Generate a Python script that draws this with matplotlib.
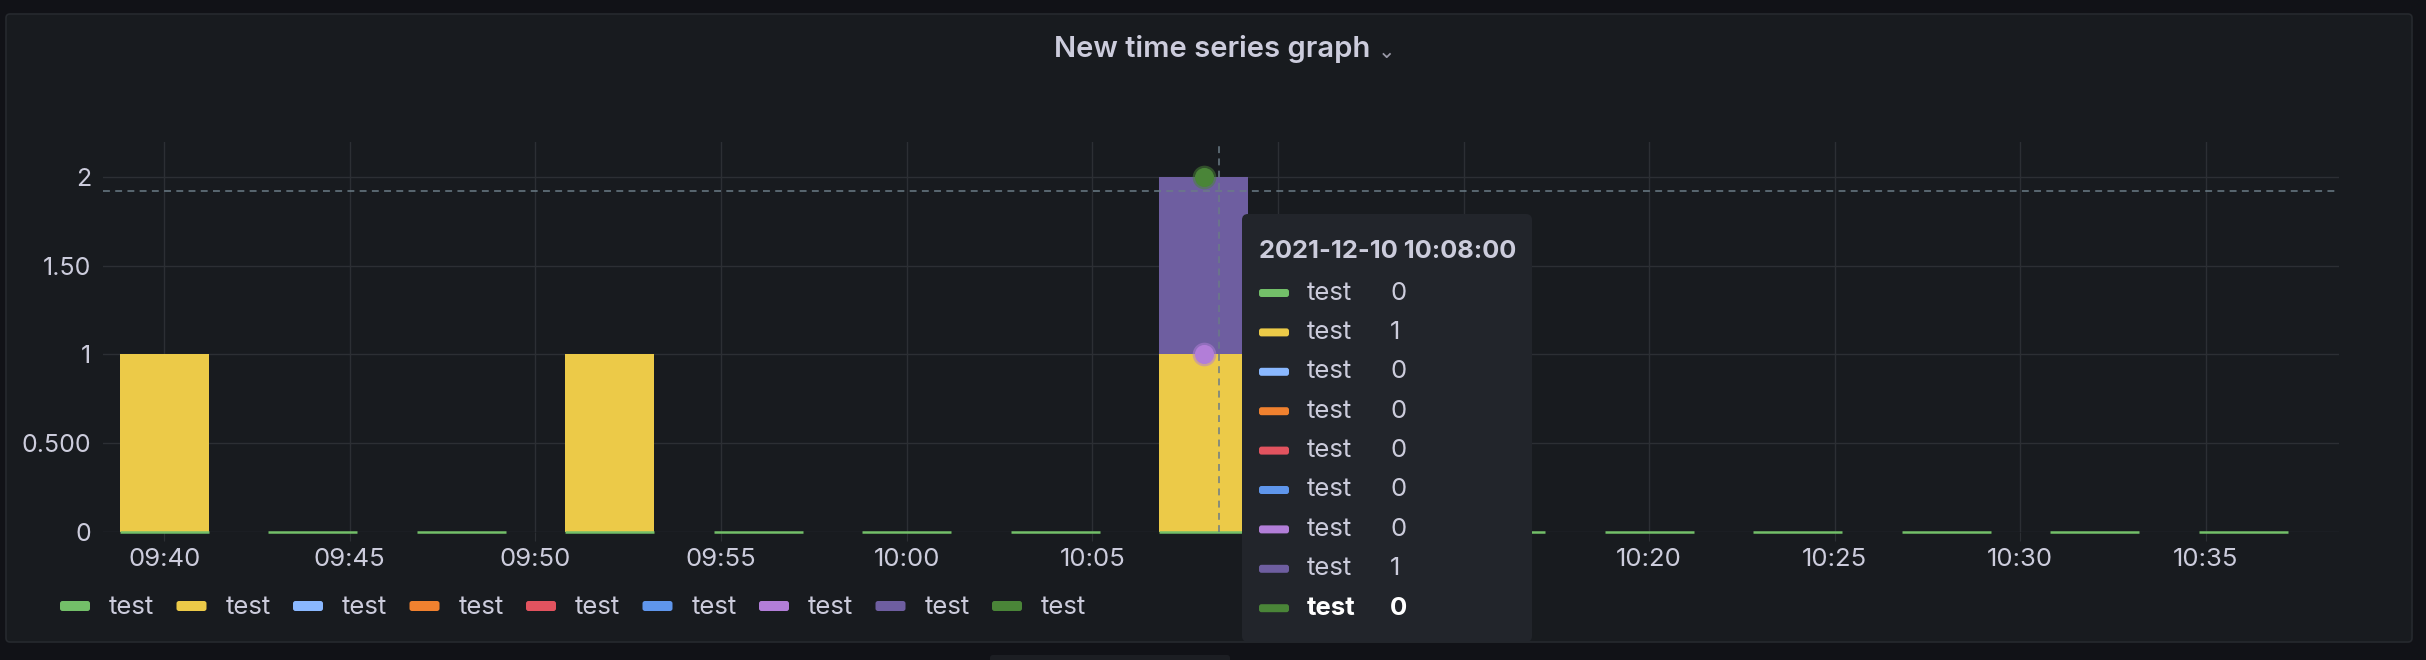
import matplotlib
matplotlib.use("Agg")
import matplotlib.pyplot as plt
import matplotlib.dates as mdates
from matplotlib.patches import FancyBboxPatch, Rectangle
from matplotlib.ticker import FixedLocator, FixedFormatter
import pandas as pd

# ---------------- data ----------------
day = "2021-12-10"
times = ["09:40", "09:44", "09:48", "09:52", "09:56", "10:00", "10:04", "10:08",
         "10:12", "10:16", "10:20", "10:24", "10:28", "10:32", "10:36"]
series_labels = ["test"] * 9
series_colors = ["#73bf69", "#ecca48", "#8ab8ff", "#f0812f", "#e2535f",
                 "#5f96ec", "#b27ed8", "#6e5ea0", "#4a8538"]
s_green       = [0, 0, 0, 0, 0, 0, 0, 0, 0, 0, 0, 0, 0, 0, 0]
s_yellow      = [1, 0, 0, 1, 0, 0, 0, 1, 0, 0, 0, 0, 0, 0, 0]
s_light_blue  = [0, 0, 0, 0, 0, 0, 0, 0, 0, 0, 0, 0, 0, 0, 0]
s_orange      = [0, 0, 0, 0, 0, 0, 0, 0, 0, 0, 0, 0, 0, 0, 0]
s_red         = [0, 0, 0, 0, 0, 0, 0, 0, 0, 0, 0, 0, 0, 0, 0]
s_blue        = [0, 0, 0, 0, 0, 0, 0, 0, 0, 0, 0, 0, 0, 0, 0]
s_purple      = [0, 0, 0, 0, 0, 0, 0, 0, 0, 0, 0, 0, 0, 0, 0]
s_dark_purple = [0, 0, 0, 0, 0, 0, 0, 1, 0, 0, 0, 0, 0, 0, 0]
s_dark_green  = [0, 0, 0, 0, 0, 0, 0, 0, 0, 0, 0, 0, 0, 0, 0]
series = [s_green, s_yellow, s_light_blue, s_orange, s_red, s_blue,
          s_purple, s_dark_purple, s_dark_green]

title = "New time series graph"
x_ticks = ["09:40", "09:45", "09:50", "09:55", "10:00", "10:05", "10:10",
           "10:15", "10:20", "10:25", "10:30", "10:35"]
x_range = ["09:38:21", "10:38:35"]
y_ticks = [0, 0.5, 1, 1.5, 2]
y_tick_labels = ["0", "0.500", "1", "1.50", "2"]
y_max = 2.197
tooltip_time = "10:08"
tooltip_header = "2021-12-10 10:08:00"
cursor_time = "10:08:25"
cursor_value = 1.92
hover_point_series = [6, 8]   # series with hover markers
highlight_series = 8          # bold row in tooltip

# ---------------- style ----------------
W, H, DPI = 2426, 660, 100
FIG_BG = "#111217"
PANEL_BG = "#181b1f"
TOOLTIP_BG = "#22252b"
GRID = "#2c2f34"
TEXT = "#ccccdc"
CROSS = "#6b7c87"
FONT = ["Inter", "DejaVu Sans"]
plt.rcParams["font.family"] = FONT

def T(t):
    return mdates.date2num(pd.Timestamp(f"{day} {t}"))

xs = [T(t) for t in times]
bar_w = 2.4 / 1440.0

fig = plt.figure(figsize=(W / DPI, H / DPI), dpi=DPI, facecolor=FIG_BG)

# background overlay (pixel coordinates)
bg = fig.add_axes([0, 0, 1, 1], zorder=0)
bg.set_xlim(0, W); bg.set_ylim(H, 0); bg.axis("off")
bg.add_patch(FancyBboxPatch((6, 14), 2406, 628, boxstyle="round,pad=0,rounding_size=4",
                            fc=PANEL_BG, ec="#26292e", lw=1.2))
bg.add_patch(FancyBboxPatch((990, 655), 240, 10, boxstyle="round,pad=0,rounding_size=3",
                            fc="#1c1e23", ec="none"))
bg.text(1212, 49, title, color=TEXT, fontsize=21, fontweight="semibold",
        ha="center", va="center")
bg.text(1386, 52, "\u2304", color="#9a9aa8", fontsize=15, ha="center", va="center",
        family=["DejaVu Sans"])

# main axes
ax = fig.add_axes([103 / W, (H - 532) / H, (2339 - 103) / W, (532 - 142) / H], zorder=1)
ax.set_facecolor("none")
for sp in ax.spines.values():
    sp.set_visible(False)
ax.set_xlim(T(x_range[0]), T(x_range[1]))
ax.set_ylim(0, y_max)
ax.xaxis.set_major_locator(FixedLocator([T(t) for t in x_ticks]))
ax.xaxis.set_major_formatter(mdates.DateFormatter("%H:%M"))
ax.yaxis.set_major_locator(FixedLocator(y_ticks))
ax.yaxis.set_major_formatter(FixedFormatter(y_tick_labels))
ax.grid(True, color=GRID, lw=1.0)
ax.set_axisbelow(True)
ax.tick_params(axis="x", length=6.5, width=0.8, color=GRID, pad=5,
               labelcolor=TEXT, labelsize=18.5)
ax.tick_params(axis="y", length=0, pad=8.5, labelcolor=TEXT, labelsize=18)

bottom = [0.0] * len(times)
tops = []
for i, vals in enumerate(series):
    if i == 0:
        ax.bar(xs, vals, width=bar_w, bottom=bottom, color=series_colors[i],
               edgecolor=series_colors[i], lw=1.8, zorder=4, clip_on=False)
    else:
        ax.bar(xs, vals, width=bar_w, bottom=bottom, color=series_colors[i],
               lw=0, zorder=3)
    bottom = [b + v for b, v in zip(bottom, vals)]
    tops.append(list(bottom))

# crosshair
ax.axhline(cursor_value, color=CROSS, lw=1.1, dashes=(4.5, 3.5), zorder=5)
ax.axvline(T(cursor_time), color=CROSS, lw=1.1, dashes=(4.5, 3.5), zorder=5)

# hover points
hi = times.index(tooltip_time)
for si in hover_point_series:
    ax.scatter([xs[hi]], [tops[si][hi]], s=290, color=series_colors[si], alpha=0.5,
               lw=0, zorder=6, clip_on=False)
    ax.scatter([xs[hi]], [tops[si][hi]], s=190, color=series_colors[si],
               lw=0, zorder=7, clip_on=False)

# foreground overlay: legend + tooltip
fg = fig.add_axes([0, 0, 1, 1], zorder=3)
fg.set_xlim(0, W); fg.set_ylim(H, 0); fg.axis("off"); fg.set_facecolor("none")

for i, (lab, col) in enumerate(zip(series_labels, series_colors)):
    x0 = 60 + i * 116.5
    fg.add_patch(FancyBboxPatch((x0, 601), 30, 10, boxstyle="round,pad=0,rounding_size=2.5",
                                fc=col, ec="none"))
    fg.text(x0 + 49, 608, lab, color=TEXT, fontsize=18.5, ha="left", va="center")

fg.add_patch(FancyBboxPatch((1242, 214), 290, 428, boxstyle="round,pad=0,rounding_size=6",
                            fc=TOOLTIP_BG, ec="none"))
fg.text(1259, 251, tooltip_header, color=TEXT, fontsize=18.3, fontweight="bold",
        ha="left", va="center")
for i, (lab, col, vals) in enumerate(zip(series_labels, series_colors, series)):
    y = 293 + i * 39.4
    fg.add_patch(FancyBboxPatch((1259, y - 4), 30, 8, boxstyle="round,pad=0,rounding_size=2.5",
                                fc=col, ec="none"))
    bold = i == highlight_series
    c = "#ffffff" if bold else TEXT
    w = "bold" if bold else "normal"
    fg.text(1307, y, lab, color=c, fontsize=18.5, fontweight=w, ha="left", va="center")
    fg.text(1390, y, f"{vals[hi]:g}", color=c, fontsize=18.5, fontweight=w,
            ha="left", va="center")

fig.savefig("out.png", dpi=DPI, facecolor=FIG_BG)
